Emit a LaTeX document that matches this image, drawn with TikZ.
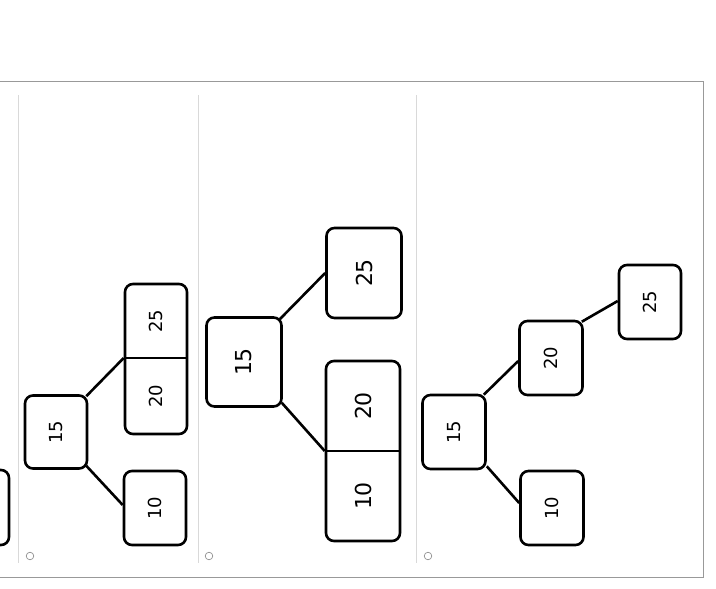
\documentclass[tikz,border=0pt]{standalone}
\usepackage{fontspec}
\setmainfont{DejaVu Sans}
\begin{document}
\begin{tikzpicture}[x=1pt,y=-1pt,
 box/.style={draw,line width=2.6pt,rounded corners=8pt,inner sep=0pt},
 lbl/.style={rotate=90,font=\fontsize{18}{18}\selectfont},
 lblb/.style={rotate=90,font=\fontsize{22}{22}\selectfont},
 edge/.style={line width=2.6pt},
 sep/.style={draw=black!15,line width=0.8pt}]
\useasboundingbox (0,0) rectangle (716,589);
\draw[black!40,line width=0.8pt] (-2,81) -- (703,81) -- (703,577) -- (-2,577);
\foreach \x in {18,198,416}{\draw[sep] (\x,95) -- (\x,563);}
\foreach \x in {30,209,428}{\draw[black!50,line width=0.6pt] (\x,556) circle (3.8);}
% partial node at left edge
\draw[line width=2.6pt,rounded corners=8pt] (-20,470) -- (9,470) -- (9,545) -- (-20,545);
% panel 1
\node[box,minimum width=62pt,minimum height=73pt] (a15) at (56,432) {};
\node[lbl] at (a15) {15};
\node[box,minimum width=62pt,minimum height=74pt] (a10) at (155,508) {};
\node[lbl] at (a10) {10};
\node[box,minimum width=62pt,minimum height=150pt] (ast) at (156,359) {};
\draw[edge] (ast.west |- 0,358) coordinate (as) -- (ast.east |- 0,358);
\node[lbl] at (156,396) {20};
\node[lbl] at (156,321) {25};
\draw[edge] (a15.north east) ++(-2,2) -- (as);
\draw[edge] (a15.south east) ++(-2,-4) -- (a10.west |- 0,505);
% panel 2
\node[box,minimum width=75pt,minimum height=89pt] (b15) at (244,362) {};
\node[lblb] at (b15) {15};
\node[box,minimum width=75pt,minimum height=90pt] (b25) at (364,273) {};
\node[lblb] at (b25) {25};
\node[box,minimum width=74pt,minimum height=180pt] (bst) at (363,451) {};
\draw[edge] (bst.west) coordinate (bs) -- (bst.east);
\node[lblb] at (363,406) {20};
\node[lblb] at (363,496) {10};
\draw[edge] (b15.north east) ++(-3,3) -- (b25.west |- 0,273);
\draw[edge] (b15.south east) ++(-1,-5) -- (bs);
% panel 3
\node[box,minimum width=63pt,minimum height=74pt] (c15) at (454,432) {};
\node[lbl] at (c15) {15};
\node[box,minimum width=63pt,minimum height=74pt] (c10) at (552,508) {};
\node[lbl] at (c10) {10};
\node[box,minimum width=63pt,minimum height=74pt] (c20) at (551,358) {};
\node[lbl] at (c20) {20};
\node[box,minimum width=62pt,minimum height=74pt] (c25) at (650,302) {};
\node[lbl] at (c25) {25};
\draw[edge] (c15.north east) ++(-3,1) -- (c20.west |- 0,361);
\draw[edge] (c15.south east) ++(0,-4) -- (c10.west |- 0,503);
\draw[edge] (c20.north east) ++(-2,2) -- (c25.west |- 0,301);
\end{tikzpicture}
\end{document}
